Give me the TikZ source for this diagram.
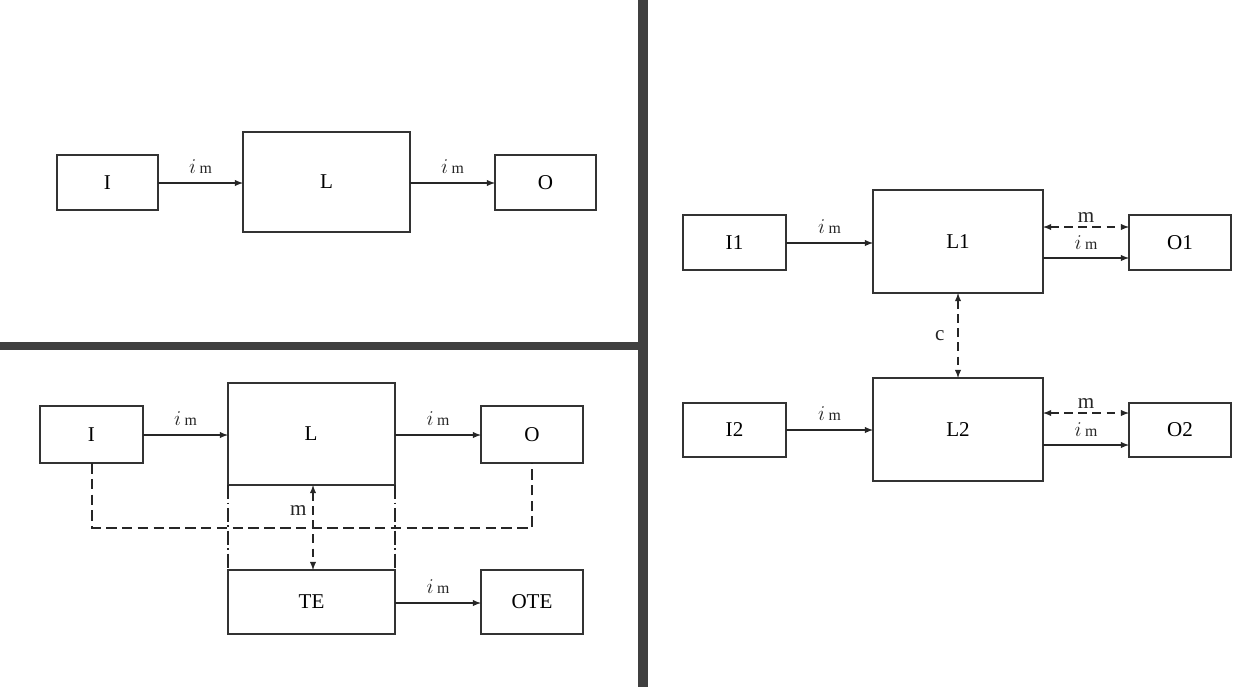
\documentclass[tikz,border=0pt]{standalone}
\usepackage{fontspec}
\setmainfont{Liberation Serif}
\begin{document}
\begin{tikzpicture}[x=0.02cm,y=-0.02cm,
  box/.style={draw=black!80,line width=0.7pt,fill=white},
  ln/.style={line width=0.6pt,black!85},
  arr/.style={ln,-latex},
  dar/.style={ln,latex-latex,dash pattern=on 5pt off 3pt},
  lbl/.style={font=\fontsize{12}{14}\selectfont},
  every node/.style={font=\fontsize{12}{14}\selectfont}]
\useasboundingbox (0,0) rectangle (1253,687);
\fill[black!75] (638,0) rectangle (648,687);
\fill[black!75] (0,342) rectangle (638,350);
\newcommand{\imlab}{$i$\,{\fontsize{9}{10}\selectfont m}}
% top-left
\draw[box] (57,155) rectangle node (a1) {I} (158,210);
\draw[box] (243,132) rectangle node (a2) {L} (410,232);
\draw[box] (495,155) rectangle node (a3) {O} (596,210);
\coordinate (a1e) at (158,183); \coordinate (a2w) at (243,183);
\coordinate (a2e) at (410,183); \coordinate (a3w) at (495,183);
\draw[arr] (a1e) -- node[above,yshift=2pt] {\imlab} (a2w);
\draw[arr] (a2e) -- node[above,yshift=2pt] {\imlab} (a3w);
% bottom-left
\draw[box] (40,406) rectangle node (b1) {I} (143,463);
\draw[box] (228,383) rectangle (395,485);
\node (b2) at (311,434) {L};
\draw[box] (481,406) rectangle node (b3) {O} (583,463);
\draw[box] (228,570) rectangle node (b4) {TE} (395,634);
\draw[box] (481,570) rectangle node (b5) {OTE} (583,634);
\draw[ln,dash pattern=on 8pt off 2pt on 1pt off 2pt] (228,485) -- (228,570) (395,485) -- (395,570);
\draw[ln,dash pattern=on 6pt off 3pt] (92,463) -- (92,528) -- (532,528) -- (532,463);
\draw[arr] (143,435) -- node[above,yshift=2pt] {\imlab} (228,435);
\draw[arr] (395,435) -- node[above,yshift=2pt] {\imlab} (481,435);
\draw[arr] (395,603) -- node[above,yshift=2pt] {\imlab} (481,603);
\draw[dar] (313,485) -- node[left,pos=0.3] {m} (313,570);
% right
\draw[box] (683,215) rectangle node (c1) {I1} (786,270);
\draw[box] (873,190) rectangle node (c2) {L1} (1043,293);
\draw[box] (1129,215) rectangle node (c3) {O1} (1231,270);
\draw[box] (683,403) rectangle node (d1) {I2} (786,457);
\draw[box] (873,378) rectangle node (d2) {L2} (1043,481);
\draw[box] (1129,403) rectangle node (d3) {O2} (1231,457);
\draw[arr] (786,243) -- node[above,yshift=2pt] {\imlab} (873,243);
\draw[arr] (786,430) -- node[above,yshift=2pt] {\imlab} (873,430);
\draw[dar] (1043,227) -- node[above,yshift=-1pt] {m} (1129,227);
\draw[arr] (1043,258) -- node[above,yshift=1pt] {\imlab} (1129,258);
\draw[dar] (1043,413) -- node[above,yshift=-1pt] {m} (1129,413);
\draw[arr] (1043,445) -- node[above,yshift=1pt] {\imlab} (1129,445);
\draw[dar] (958,293) -- node[left,xshift=-4pt] {c} (958,378);
\end{tikzpicture}
\end{document}
